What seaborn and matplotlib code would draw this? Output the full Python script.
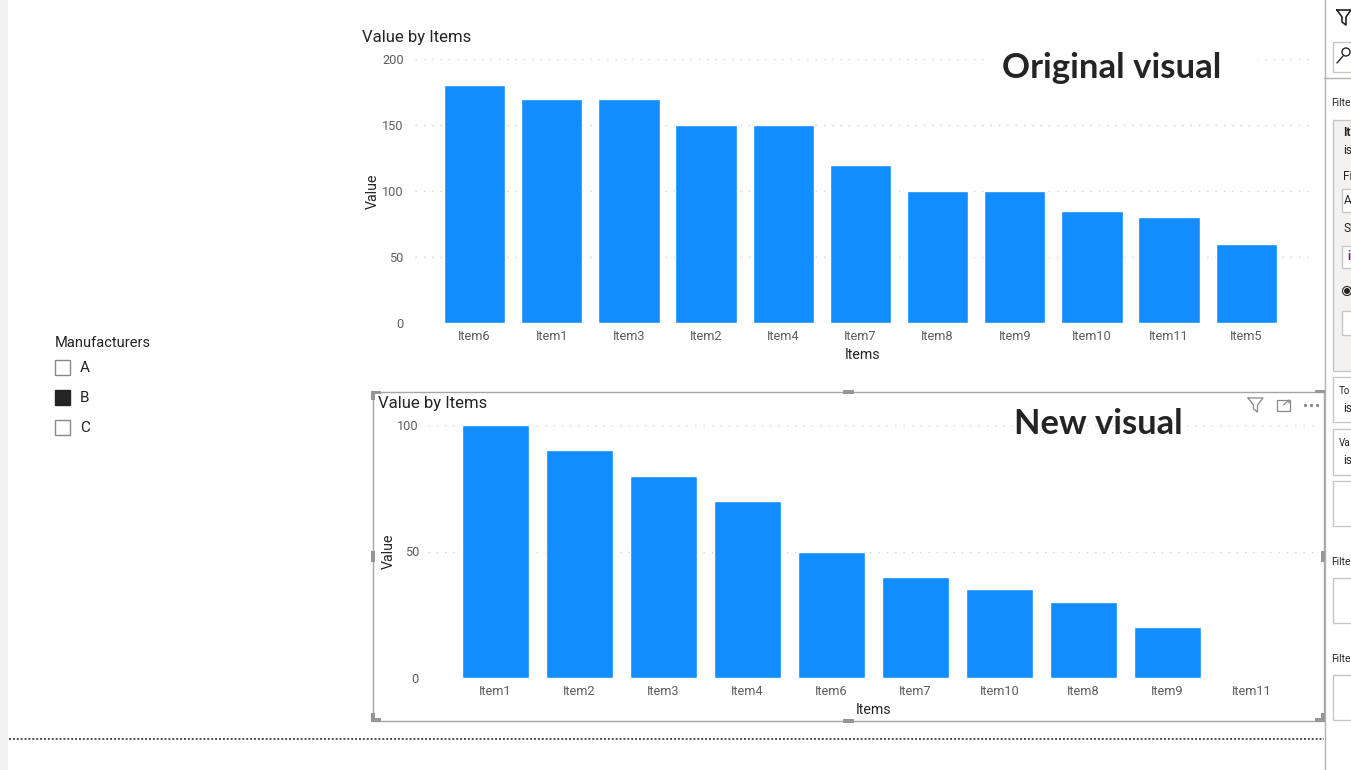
import matplotlib
matplotlib.use("Agg")
import matplotlib.pyplot as plt
import pandas as pd
import seaborn as sns
from matplotlib.patches import Circle, Rectangle

W, H = 1351, 770

# --- data ---
top_items = ["Item6", "Item1", "Item3", "Item2", "Item4", "Item7", "Item8", "Item9", "Item10", "Item11", "Item5"]
top_values = [180, 170, 170, 150, 150, 120, 100, 100, 85, 80, 60]
bottom_items = ["Item1", "Item2", "Item3", "Item4", "Item6", "Item7", "Item10", "Item8", "Item9", "Item11"]
bottom_values = [100, 90, 80, 70, 50, 40, 35, 30, 20, 0]
top_ticks = [0, 50, 100, 150, 200]
bottom_ticks = [0, 50, 100]
manufacturers = ["A", "B", "C"]
manufacturers_checked = [False, True, False]

BLUE = "#118DFF"
DARK = "#252423"
TICK = "#605E5C"
GREY = "#A6A6A6"

sns.set_theme(style="white")
plt.rcParams["font.family"] = ["Roboto", "DejaVu Sans"]

fig = plt.figure(figsize=(W / 100, H / 100), dpi=100, facecolor="white")


def px_axes(left, top, right, bottom, **kw):
    return fig.add_axes([left / W, 1 - bottom / H, (right - left) / W, (bottom - top) / H], **kw)


def draw_bars(ax, items, values, ticks, xlim, label_xy, ypad):
    df = pd.DataFrame({"Items": items, "Value": values})
    sns.barplot(data=df, x="Items", y="Value", color=BLUE, saturation=1, width=0.795, ax=ax, zorder=3)
    ax.set_xlim(*xlim)
    ax.set_ylim(ticks[0], ticks[-1])
    ax.set_yticks(ticks)
    ax.grid(axis="y", color="#D0D0D0", linestyle=(0, (1, 5)), linewidth=1)
    ax.set_axisbelow(True)
    ax.patch.set_alpha(0)
    sns.despine(ax=ax, left=True, bottom=True)
    ax.tick_params(axis="x", length=0, labelsize=9.2, labelcolor=TICK, pad=4.8)
    ax.tick_params(axis="y", length=0, labelsize=9.2, labelcolor=TICK, pad=ypad)
    ax.set_xlabel("Items", fontsize=10.2, color=DARK)
    ax.set_ylabel("Value", fontsize=10.2, color=DARK)
    ax.xaxis.set_label_coords(0.5, label_xy[0], transform=ax.transAxes)
    ax.yaxis.set_label_coords(label_xy[1], 0.5, transform=ax.transAxes)


# upper chart: bars step 77.2 px, first centre at 475 px
ax_top = px_axes(415, 59, 1310, 323)
draw_bars(ax_top, top_items, top_values, top_ticks, (-0.771, 10.826), (-0.096, -0.039), 8)

# lower chart: bars step 84 px, first centre at 496 px
ax_bottom = px_axes(428, 425, 1320, 678)
draw_bars(ax_bottom, bottom_items, bottom_values, bottom_ticks, (-0.804, 9.816), (-0.100, -0.036), 6.5)

# --- report page chrome drawn in pixel coordinates ---
page = fig.add_axes([0, 0, 1, 1], zorder=5)
page.set_xlim(0, W)
page.set_ylim(H, 0)
page.axis("off")
page.patch.set_alpha(0)


def box(x0, y0, x1, y1, fc="none", ec="none", lw=1.0, z=2):
    page.add_patch(Rectangle((x0, y0), x1 - x0, y1 - y0, facecolor=fc, edgecolor=ec, linewidth=lw, zorder=z, clip_on=True))


def label(x, y, s, size=10.2, color=DARK, weight="normal", ha="left", family=None):
    page.text(x, y, s, fontsize=size, color=color, fontweight=weight, ha=ha, va="center",
              family=family or plt.rcParams["font.family"], zorder=6)


# left grey strip
box(0, 0, 8, H, fc="#F3F2F1")

# text box of the first annotation hides the gridline behind it
box(990, 46, 1258, 84, fc="white")
label(1002, 68.5, "Original visual", size=25, weight="bold", family=["Lato", "DejaVu Sans"])
label(1014, 423.5, "New visual", size=24.8, weight="bold", family=["Lato", "DejaVu Sans"])

label(362, 37.5, "Value by Items", size=12)
label(378, 403.5, "Value by Items", size=12)

# slicer
label(55, 343, "Manufacturers", size=10.5)
for name, checked, y in zip(manufacturers, manufacturers_checked, [360, 390, 420]):
    box(55, y, 69.5, y + 15, fc=DARK if checked else "white", ec=DARK if checked else "#8A8886", lw=1)
    label(80, y + 8, name, size=11)

# selection frame with handles
box(373, 392, 1324, 721, ec=GREY, lw=1)
for x0, y0, x1, y1 in [(371, 391, 381, 394), (371, 391, 375, 400),
                       (1315, 390, 1325, 393),
                       (371, 718, 381, 722), (371, 713, 375, 722),
                       (1315, 718, 1325, 722), (1321, 713, 1325, 722),
                       (843, 390, 854, 394), (843, 719, 854, 723),
                       (371, 551, 375, 562), (1321, 551, 1325, 562)]:
    box(x0, y0, x1, y1, fc="#969696")

# visual header icons
page.plot([1248, 1263, 1257.5, 1257.5, 1253.5, 1253.5, 1248], [398, 398, 405, 412, 409, 405, 398], color="#8A8886", lw=0.9)
box(1277, 400, 1290, 411, ec="#8A8886", lw=0.9)
page.plot([1283.5, 1289, 1289], [405, 400, 403], color="#8A8886", lw=0.9)
page.plot([1305, 1311, 1317], [405, 405, 405], ls="none", marker="o", ms=1.3, color="#8A8886")

# dotted page boundary
page.plot([9, 1324], [738.5, 738.5], color="#505050", lw=1.4, linestyle=(0, (1, 1)))

# filter pane at the screenshot edge
page.plot([1324.5, 1324.5], [0, H], color="#B3B0AD", lw=1)
page.plot([1324, W], [77.5, 77.5], color="#B3B0AD", lw=1)
page.plot([1337, 1351, 1346, 1346, 1342, 1342, 1337], [10, 10, 17, 25, 22, 17, 10], color=DARK, lw=1.2)
box(1333, 42, 1353, 72, ec="#C8C6C4")
page.add_patch(Circle((1346, 52), 4, fill=False, ec=DARK, lw=1, zorder=3))
page.plot([1343, 1337], [56, 63], color=DARK, lw=1, zorder=3)
label(1331, 103, "Filte", size=7.4)

box(1333, 120, 1353, 371, fc="#F3F2F1", ec="#C8C6C4")
label(1343, 132, "It", size=8.6, weight="bold")
label(1343, 151, "is", size=8.6)
label(1343, 176, "Fi", size=8.6)
box(1342, 189, 1353, 212, fc="white", ec="#C8C6C4", z=3)
label(1344, 201, "A", size=8.6)
label(1343, 229, "Sl", size=8.6)
box(1342, 246, 1353, 268, fc="white", ec="#C8C6C4", z=3)
label(1347, 257, "i", size=8.6, color="#7A1E7A", weight="bold")
page.add_patch(Circle((1347, 291), 4.5, fc="white", ec=DARK, lw=0.8, zorder=3))
page.add_patch(Circle((1347, 291), 3, fc=DARK, ec="none", zorder=4))
box(1342, 311, 1353, 335, fc="white", ec="#C8C6C4", z=3)

for y0, y1, head in [(377, 422, "To"), (429, 475, "Va")]:
    box(1333, y0, 1353, y1, ec="#C8C6C4")
    label(1339, y0 + 14, head, size=7)
    label(1343, y0 + 32, "is", size=8.6)
box(1333, 481, 1353, 526, ec="#C8C6C4")
label(1331, 562, "Filte", size=7.4)
box(1333, 578, 1353, 623, ec="#C8C6C4")
label(1331, 659, "Filte", size=7.4)
box(1333, 675, 1353, 720, ec="#C8C6C4")

fig.savefig("out.png", dpi=100)
